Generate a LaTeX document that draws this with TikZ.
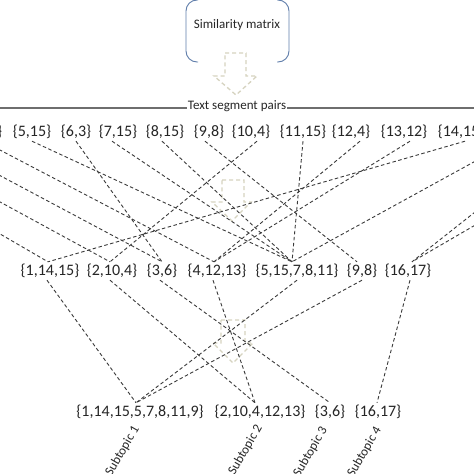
\documentclass[tikz,border=0pt]{standalone}
\usepackage{fontspec}
\setmainfont{Carlito}
\definecolor{txt}{RGB}{38,38,38}
\definecolor{conncol}{RGB}{58,58,58}
\definecolor{boxcol}{RGB}{95,125,170}
\definecolor{arrcol}{RGB}{214,211,192}
\definecolor{rulecol}{RGB}{110,110,110}
\begin{document}
\begin{tikzpicture}[x=1pt,y=-1pt,
  setnode/.style={text=txt,font=\fontsize{16}{19}\selectfont,inner xsep=0pt,inner ysep=1pt,text height=12pt,text depth=4pt},
  smalltext/.style={text=txt,font=\fontsize{13}{15}\selectfont,inner sep=1pt},
  subtopic/.style={smalltext,rotate=60,anchor=east},
  conn/.style={draw=conncol,line width=0.9pt,dash pattern=on 3.5pt off 2.5pt},
  bigarrow/.style={draw=arrcol,line width=1.3pt,dash pattern=on 4pt off 3pt,line join=miter},
  bracketbox/.style={draw=boxcol,line width=0.9pt,rounded corners=11pt},
  rulestyle/.style={draw=rulecol,line width=1.6pt}]
\useasboundingbox (0,0) rectangle (474,474);
\clip (0,0) rectangle (474,474);
\fill[white] (0,0) rectangle (474,474);

% similarity matrix bracket box
\draw[bracketbox] (198,0) -- (186,0) -- (186,62) -- (198,62);
\draw[bracketbox] (277,0) -- (289,0) -- (289,62) -- (277,62);
\node[smalltext] (sim) at (237,25) {Similarity matrix};

% hollow dashed arrows
\draw[bigarrow] (225,53) -- (246,53) -- (246,76) -- (257,76) -- (236,95) -- (214,76) -- (225,76) -- cycle;
\draw[bigarrow] (222,180) -- (244,180) -- (244,202) -- (251,202) -- (232,221) -- (212,202) -- (222,202) -- cycle;
\draw[bigarrow] (221,320) -- (245,320) -- (245,343) -- (253,343) -- (233,363) -- (213,343) -- (221,343) -- cycle;

% rule with label
\node[smalltext] (tsp) at (237,106) {Text segment pairs};
\coordinate (hl) at (0,108);
\coordinate (hr) at (474,108);
\draw[rulestyle] (hl) -- (hl -| tsp.west);
\draw[rulestyle] (tsp.east |- hr) -- (hr);

% top row
\coordinate (t1) at (-160,141);
\coordinate (t2) at (-112,141);
\coordinate (t3) at (-65,141);
\node[setnode] (t4) at (-17,132) {\{4,12\}};
\node[setnode] (t5) at (32,132) {\{5,15\}};
\node[setnode] (t6) at (76,132) {\{6,3\}};
\node[setnode] (t7) at (118,132) {\{7,15\}};
\node[setnode] (t8) at (165,132) {\{8,15\}};
\node[setnode] (t9) at (209,132) {\{9,8\}};
\node[setnode] (t10) at (251,132) {\{10,4\}};
\node[setnode] (t11) at (303,132) {\{11,15\}};
\node[setnode] (t12) at (351,132) {\{12,4\}};
\node[setnode] (t13) at (404,132) {\{13,12\}};
\node[setnode] (t14) at (461,132) {\{14,15\}};
\coordinate (t15) at (512,141);
\coordinate (t16) at (565,141);
\coordinate (t17) at (620,141);

% middle row
\node[setnode] (m1) at (50,271) {\{1,14,15\}};
\node[setnode] (m2) at (112,271) {\{2,10,4\}};
\node[setnode] (m3) at (162,271) {\{3,6\}};
\node[setnode] (m4) at (217,271) {\{4,12,13\}};
\node[setnode] (m5) at (297,271) {\{5,15,7,8,11\}};
\node[setnode] (m6) at (362,271) {\{9,8\}};
\node[setnode] (m7) at (408,271) {\{16,17\}};

% bottom row
\node[setnode] (b1) at (140,412) {\{1,14,15,5,7,8,11,9\}};
\node[setnode] (b2) at (260,412) {\{2,10,4,12,13\}};
\node[setnode] (b3) at (330,412) {\{3,6\}};
\node[setnode] (b4) at (378,412) {\{16,17\}};

% subtopic labels
\node[subtopic] (s1) at (137,426) {Subtopic 1};
\node[subtopic] (s2) at (260,425) {Subtopic 2};
\node[subtopic] (s3) at (325,427) {Subtopic 3};
\node[subtopic] (s4) at (379,427) {Subtopic 4};

% top -> middle connectors
\draw[conn] (t1) -- ([xshift=-2pt]m1.north);
\draw[conn] (t2) -- ([xshift=-2pt]m2.north);
\draw[conn] (t3) -- (m3.north);
\draw[conn] (t4.south) -- ([xshift=-3pt]m4.north);
\draw[conn] (t5.south) -- ([xshift=-5pt]m5.north);
\draw[conn] (t6.south) -- (m3.north);
\draw[conn] ([xshift=-6pt]t7.south) -- ([xshift=-5pt]m5.north);
\draw[conn] ([xshift=-3pt]t8.south) -- ([xshift=-5pt]m5.north);
\draw[conn] ([xshift=-4pt]t9.south) -- ([xshift=-5pt]m6.north);
\draw[conn] ([xshift=6pt]t10.south) -- ([xshift=-2pt]m2.north);
\draw[conn] (t11.south) -- ([xshift=-5pt]m5.north);
\draw[conn] ([xshift=9pt]t12.south) -- ([xshift=-3pt]m4.north);
\draw[conn] ([xshift=6pt]t13.south) -- ([xshift=-3pt]m4.north);
\draw[conn] ([xshift=4pt]t14.south) -- ([xshift=-2pt]m1.north);
\draw[conn] (t15) -- ([xshift=-5pt]m5.north);
\draw[conn] (t16) -- ([xshift=4pt]m7.north);
\draw[conn] (t17) -- ([xshift=4pt]m7.north);

% middle -> bottom connectors
\draw[conn] ([xshift=-3pt]m1.south) -- ([xshift=-4pt]b1.north);
\draw[conn] ([xshift=-2pt]m2.south) -- ([xshift=-5pt]b2.north);
\draw[conn] ([xshift=-2pt]m3.south) -- (b3.north);
\draw[conn] ([xshift=-4pt]m4.south) -- ([xshift=-5pt]b2.north);
\draw[conn] (m5.south) -- ([xshift=-4pt]b1.north);
\draw[conn] (m6.south) -- ([xshift=-4pt]b1.north);
\draw[conn] ([xshift=2pt]m7.south) -- ([xshift=-1pt]b4.north);
\end{tikzpicture}
\end{document}
